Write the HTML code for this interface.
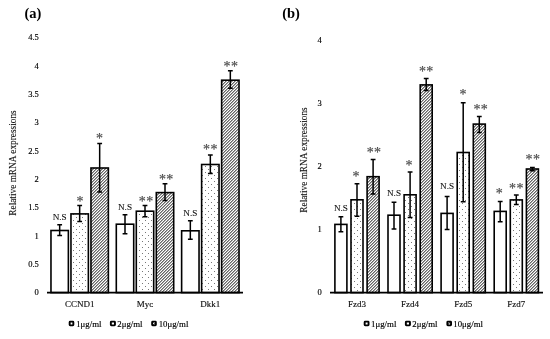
<!DOCTYPE html>
<html><head><meta charset="utf-8"><style>
html,body{margin:0;padding:0;background:#fff;width:550px;height:339px;overflow:hidden}
svg{display:block}
text{font-family:'Liberation Serif','Times New Roman',serif;fill:#000}
.tk{font-size:8.5px;text-anchor:end;fill:#000;stroke:#000;stroke-width:0.15px}
.cat{font-size:9px;text-anchor:middle;fill:#111;stroke:#111;stroke-width:0.15px}
.ns{font-size:9.2px;text-anchor:middle;fill:#111;stroke:#111;stroke-width:0.1px}
.st{font-size:14px;text-anchor:middle;fill:#4a4a4a;stroke:#4a4a4a;stroke-width:0.2px}
.st2{font-size:14px;fill:#4a4a4a;stroke:#4a4a4a;stroke-width:0.2px}
.lg{font-size:8.8px;fill:#000;stroke:#000;stroke-width:0.15px}
.ttl{font-size:9.3px;text-anchor:middle;fill:#111;stroke:#111;stroke-width:0.12px}
.pl{font-size:14.5px;font-weight:bold;fill:#000}
</style></head><body>
<svg width="550" height="339" viewBox="0 0 550 339">
<defs>
<pattern id="hatch" patternUnits="userSpaceOnUse" x="0" y="0" width="3" height="3">
<rect width="3" height="3" fill="#fff"/>
<rect x="0" y="0" width="1" height="1" fill="#666"/><rect x="1" y="2" width="1" height="1" fill="#666"/><rect x="2" y="1" width="1" height="1" fill="#666"/>
<rect x="1" y="0" width="1" height="1" fill="#aaa"/><rect x="0" y="1" width="1" height="1" fill="#aaa"/><rect x="2" y="2" width="1" height="1" fill="#aaa"/>
</pattern>
<pattern id="dotsA" patternUnits="userSpaceOnUse" x="1" y="4" width="6" height="6">
<rect width="6" height="6" fill="#fff"/><rect x="0" y="0" width="1" height="1" fill="#777"/><rect x="3" y="3" width="1" height="1" fill="#777"/>
</pattern>
<pattern id="dotsB" patternUnits="userSpaceOnUse" x="3" y="2" width="6" height="6">
<rect width="6" height="6" fill="#fff"/><rect x="0" y="0" width="1" height="1" fill="#777"/><rect x="3" y="3" width="1" height="1" fill="#777"/>
</pattern>
</defs>
<rect width="550" height="339" fill="#fff"/>
<text x="24.5" y="17.7" class="pl">(a)</text>
<text x="282.2" y="17.7" class="pl">(b)</text>
<text transform="translate(15.9 163) rotate(-90)" class="ttl">Relative mRNA expressions</text>
<text transform="translate(306.9 160) rotate(-90)" class="ttl">Relative mRNA expressions</text>

<text x="38.8" y="295.35" class="tk">0</text>
<text x="38.8" y="267.03" class="tk">0.5</text>
<text x="38.8" y="238.71" class="tk">1</text>
<text x="38.8" y="210.39" class="tk">1.5</text>
<text x="38.8" y="182.07" class="tk">2</text>
<text x="38.8" y="153.75" class="tk">2.5</text>
<text x="38.8" y="125.43" class="tk">3</text>
<text x="38.8" y="97.11" class="tk">3.5</text>
<text x="38.8" y="68.79" class="tk">4</text>
<text x="38.8" y="40.47" class="tk">4.5</text>
<rect x="50.97" y="230.50" width="17.40" height="62.10" fill="#fff" stroke="#000" stroke-width="1.6"/>
<rect x="70.97" y="213.90" width="17.40" height="78.70" fill="url(#dotsA)" stroke="#000" stroke-width="1.6"/>
<rect x="90.97" y="168.00" width="17.40" height="124.60" fill="url(#hatch)" stroke="#000" stroke-width="1.6"/>
<path d="M59.67 224.80V235.60M57.27 224.80H62.07M57.27 235.60H62.07" stroke="#000" stroke-width="1.5" fill="none"/>
<text x="59.67" y="219.90" class="ns">N.S</text>
<path d="M79.67 205.60V221.60M77.27 205.60H82.07M77.27 221.60H82.07" stroke="#000" stroke-width="1.5" fill="none"/>
<text x="80.10" y="205.98" class="st">*</text>
<path d="M99.67 143.40V192.00M97.27 143.40H102.07M97.27 192.00H102.07" stroke="#000" stroke-width="1.5" fill="none"/>
<text x="99.50" y="142.78" class="st">*</text>
<text x="79.67" y="306.6" class="cat">CCND1</text>
<rect x="116.30" y="224.20" width="17.40" height="68.40" fill="#fff" stroke="#000" stroke-width="1.6"/>
<rect x="136.30" y="211.20" width="17.40" height="81.40" fill="url(#dotsA)" stroke="#000" stroke-width="1.6"/>
<rect x="156.30" y="192.60" width="17.40" height="100.00" fill="url(#hatch)" stroke="#000" stroke-width="1.6"/>
<path d="M125.00 214.80V233.80M122.60 214.80H127.40M122.60 233.80H127.40" stroke="#000" stroke-width="1.5" fill="none"/>
<text x="125.00" y="209.70" class="ns">N.S</text>
<path d="M145.00 205.60V216.80M142.60 205.60H147.40M142.60 216.80H147.40" stroke="#000" stroke-width="1.5" fill="none"/>
<text x="142.30 149.70" y="206.28" class="st">**</text>
<path d="M165.00 183.80V200.60M162.60 183.80H167.40M162.60 200.60H167.40" stroke="#000" stroke-width="1.5" fill="none"/>
<text x="162.40 169.80" y="183.68" class="st">**</text>
<text x="145.00" y="306.6" class="cat">Myc</text>
<rect x="181.63" y="230.80" width="17.40" height="61.80" fill="#fff" stroke="#000" stroke-width="1.6"/>
<rect x="201.63" y="164.50" width="17.40" height="128.10" fill="url(#dotsA)" stroke="#000" stroke-width="1.6"/>
<rect x="221.63" y="80.20" width="17.40" height="212.40" fill="url(#hatch)" stroke="#000" stroke-width="1.6"/>
<path d="M190.33 220.80V239.20M187.93 220.80H192.73M187.93 239.20H192.73" stroke="#000" stroke-width="1.5" fill="none"/>
<text x="190.33" y="215.80" class="ns">N.S</text>
<path d="M210.33 155.00V173.40M207.93 155.00H212.73M207.93 173.40H212.73" stroke="#000" stroke-width="1.5" fill="none"/>
<text x="206.60 214.00" y="154.28" class="st">**</text>
<path d="M230.33 70.80V88.20M227.93 70.80H232.73M227.93 88.20H232.73" stroke="#000" stroke-width="1.5" fill="none"/>
<text x="227.00 234.40" y="70.78" class="st">**</text>
<text x="210.33" y="306.6" class="cat">Dkk1</text>
<path d="M47 292.6H243" stroke="#000" stroke-width="1.7"/>
<text x="321.8" y="295.35" class="tk">0</text>
<text x="321.8" y="232.35" class="tk">1</text>
<text x="321.8" y="169.35" class="tk">2</text>
<text x="321.8" y="106.35" class="tk">3</text>
<text x="321.8" y="43.35" class="tk">4</text>
<rect x="334.90" y="224.40" width="12.00" height="68.20" fill="#fff" stroke="#000" stroke-width="1.6"/>
<rect x="351.00" y="199.80" width="12.00" height="92.80" fill="url(#dotsB)" stroke="#000" stroke-width="1.6"/>
<rect x="367.10" y="176.70" width="12.00" height="115.90" fill="url(#hatch)" stroke="#000" stroke-width="1.6"/>
<path d="M340.90 216.80V231.70M338.50 216.80H343.30M338.50 231.70H343.30" stroke="#000" stroke-width="1.5" fill="none"/>
<text x="340.90" y="210.90" class="ns">N.S</text>
<path d="M357.00 183.80V216.30M354.60 183.80H359.40M354.60 216.30H359.40" stroke="#000" stroke-width="1.5" fill="none"/>
<text x="356.10" y="180.58" class="st">*</text>
<path d="M373.10 159.60V194.00M370.70 159.60H375.50M370.70 194.00H375.50" stroke="#000" stroke-width="1.5" fill="none"/>
<text x="370.20 377.60" y="156.68" class="st">**</text>
<text x="357.00" y="306.6" class="cat">Fzd3</text>
<rect x="388.00" y="215.20" width="12.00" height="77.40" fill="#fff" stroke="#000" stroke-width="1.6"/>
<rect x="404.10" y="194.80" width="12.00" height="97.80" fill="url(#dotsB)" stroke="#000" stroke-width="1.6"/>
<rect x="420.20" y="84.90" width="12.00" height="207.70" fill="url(#hatch)" stroke="#000" stroke-width="1.6"/>
<path d="M394.00 202.20V229.00M391.60 202.20H396.40M391.60 229.00H396.40" stroke="#000" stroke-width="1.5" fill="none"/>
<text x="394.00" y="195.60" class="ns">N.S</text>
<path d="M410.10 171.90V217.60M407.70 171.90H412.50M407.70 217.60H412.50" stroke="#000" stroke-width="1.5" fill="none"/>
<text x="408.90" y="170.48" class="st">*</text>
<path d="M426.20 78.60V90.50M423.80 78.60H428.60M423.80 90.50H428.60" stroke="#000" stroke-width="1.5" fill="none"/>
<text x="422.40 429.80" y="75.78" class="st">**</text>
<text x="410.10" y="306.6" class="cat">Fzd4</text>
<rect x="441.10" y="213.40" width="12.00" height="79.20" fill="#fff" stroke="#000" stroke-width="1.6"/>
<rect x="457.20" y="152.50" width="12.00" height="140.10" fill="url(#dotsB)" stroke="#000" stroke-width="1.6"/>
<rect x="473.30" y="124.10" width="12.00" height="168.50" fill="url(#hatch)" stroke="#000" stroke-width="1.6"/>
<path d="M447.10 196.50V229.60M444.70 196.50H449.50M444.70 229.60H449.50" stroke="#000" stroke-width="1.5" fill="none"/>
<text x="447.10" y="189.10" class="ns">N.S</text>
<path d="M463.20 102.80V201.80M460.80 102.80H465.60M460.80 201.80H465.60" stroke="#000" stroke-width="1.5" fill="none"/>
<text x="463.00" y="99.08" class="st">*</text>
<path d="M479.30 116.60V132.40M476.90 116.60H481.70M476.90 132.40H481.70" stroke="#000" stroke-width="1.5" fill="none"/>
<text x="476.90 484.30" y="114.08" class="st">**</text>
<text x="463.20" y="306.6" class="cat">Fzd5</text>
<rect x="494.20" y="211.40" width="12.00" height="81.20" fill="#fff" stroke="#000" stroke-width="1.6"/>
<rect x="510.30" y="199.90" width="12.00" height="92.70" fill="url(#dotsB)" stroke="#000" stroke-width="1.6"/>
<rect x="526.40" y="169.00" width="12.00" height="123.60" fill="url(#hatch)" stroke="#000" stroke-width="1.6"/>
<path d="M500.20 201.40V221.80M497.80 201.40H502.60M497.80 221.80H502.60" stroke="#000" stroke-width="1.5" fill="none"/>
<text x="499.30" y="197.88" class="st">*</text>
<path d="M516.30 195.00V204.50M513.90 195.00H518.70M513.90 204.50H518.70" stroke="#000" stroke-width="1.5" fill="none"/>
<text x="512.50 519.90" y="192.98" class="st">**</text>
<path d="M532.40 167.60V170.80M530.00 167.60H534.80M530.00 170.80H534.80" stroke="#000" stroke-width="1.5" fill="none"/>
<text x="529.10 536.50" y="164.08" class="st">**</text>
<text x="516.30" y="306.6" class="cat">Fzd7</text>
<path d="M330 292.6H543" stroke="#000" stroke-width="1.7"/>
<rect x="69.65" y="321.65" width="3.70" height="3.70" fill="#fff" stroke="#000" stroke-width="1.9" rx="0.5"/>
<text x="76.20" y="326.8" class="lg">1μg/ml</text>
<rect x="110.85" y="321.65" width="4.10" height="3.70" fill="#fff" stroke="#000" stroke-width="1.9" rx="0.5"/>
<text x="117.30" y="326.8" class="lg">2μg/ml</text>
<rect x="152.15" y="321.65" width="3.70" height="3.70" fill="url(#hatch)" stroke="#000" stroke-width="1.9" rx="0.5"/>
<text x="158.70" y="326.8" class="lg">10μg/ml</text>
<rect x="364.65" y="321.65" width="3.90" height="3.70" fill="#fff" stroke="#000" stroke-width="1.9" rx="0.5"/>
<text x="371.10" y="326.8" class="lg">1μg/ml</text>
<rect x="405.85" y="321.65" width="4.10" height="3.70" fill="#fff" stroke="#000" stroke-width="1.9" rx="0.5"/>
<text x="412.30" y="326.8" class="lg">2μg/ml</text>
<rect x="447.35" y="321.65" width="3.70" height="3.70" fill="url(#hatch)" stroke="#000" stroke-width="1.9" rx="0.5"/>
<text x="453.30" y="326.8" class="lg">10μg/ml</text>
</svg></body></html>
